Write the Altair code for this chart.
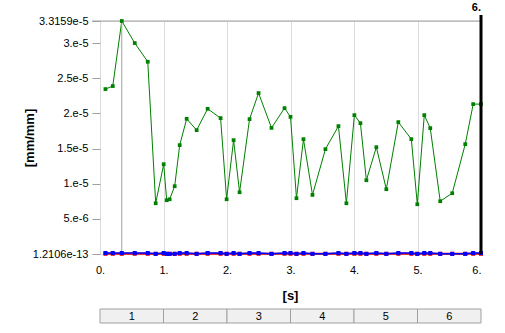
import altair as alt
import pandas as pd

# ---- data ----
t = [0.086, 0.201, 0.343, 0.547, 0.752, 0.877, 1.003, 1.050, 1.097, 1.176,
     1.255, 1.365, 1.522, 1.695, 1.899, 1.994, 2.104, 2.198, 2.355, 2.497,
     2.701, 2.906, 3.000, 3.094, 3.204, 3.346, 3.550, 3.755, 3.880, 4.006,
     4.101, 4.195, 4.352, 4.509, 4.698, 4.903, 4.997, 5.107, 5.201, 5.358,
     5.547, 5.752, 5.877, 6.000]
green = [2.347e-5, 2.390e-5, 3.3159e-5, 3.002e-5, 2.736e-5, 0.722e-5, 1.278e-5, 0.765e-5, 0.779e-5, 0.965e-5,
         1.549e-5, 1.924e-5, 1.763e-5, 2.066e-5, 1.934e-5, 0.779e-5, 1.620e-5, 0.879e-5, 1.919e-5, 2.290e-5,
         1.795e-5, 2.076e-5, 1.952e-5, 0.794e-5, 1.634e-5, 0.841e-5, 1.492e-5, 1.820e-5, 0.722e-5, 1.976e-5,
         1.862e-5, 1.050e-5, 1.520e-5, 0.922e-5, 1.877e-5, 1.634e-5, 0.708e-5, 1.976e-5, 1.791e-5, 0.751e-5,
         0.865e-5, 1.563e-5, 2.133e-5, 2.133e-5]
blue = [1.4e-7, 1.4e-7, 1.4e-7, 1.4e-7, 1.4e-7, 0.2e-7, 1.4e-7, 0.2e-7, 0.2e-7, 0.2e-7,
        1.4e-7, 1.4e-7, 0.2e-7, 1.4e-7, 1.4e-7, 0.2e-7, 1.4e-7, 0.2e-7, 1.4e-7, 1.4e-7,
        0.2e-7, 1.4e-7, 1.4e-7, 0.2e-7, 1.4e-7, 0.2e-7, 0.2e-7, 1.4e-7, 0.2e-7, 1.4e-7,
        1.4e-7, 0.2e-7, 1.4e-7, 0.2e-7, 1.4e-7, 1.4e-7, 0.2e-7, 1.4e-7, 1.4e-7, 0.2e-7,
        0.2e-7, 0.2e-7, 1.4e-7, 1.4e-7]
red = [0.3e-7] * len(t)

y_ticks = [1.2106e-13, 5e-6, 1e-5, 1.5e-5, 2e-5, 2.5e-5, 3e-5, 3.3159e-5]
y_labels = ["1.2106e-13", "5.e-6", "1.e-5", "1.5e-5", "2.e-5", "2.5e-5", "3.e-5", "3.3159e-5"]
x_ticks = [0, 1, 2, 3, 4, 5, 6]
x_labels = ["0.", "1.", "2.", "3.", "4.", "5.", "6."]
steps = ["1", "2", "3", "4", "5", "6"]
step_start = [0, 1, 2, 3, 4, 5]
step_end = [1, 2, 3, 4, 5, 6]
max_t = 0.343
max_v = 3.3159e-5
cursor_t = 6.0

FONT = "Liberation Sans"

# label expressions
ylab_expr = ""
for i, (v, s) in enumerate(zip(y_ticks, y_labels)):
    if i < len(y_ticks) - 1:
        ylab_expr += f"datum.value < {(v + y_ticks[i+1]) / 2:.4e} ? '{s}' : "
    else:
        ylab_expr += f"'{s}'"
xlab_expr = ""
for i, (v, s) in enumerate(zip(x_ticks, x_labels)):
    if i < len(x_ticks) - 1:
        xlab_expr += f"datum.value < {v + 0.5} ? '{s}' : "
    else:
        xlab_expr += f"'{s}'"

df = pd.DataFrame({"t": t, "green": green, "blue": blue, "red": red})
steps_df = pd.DataFrame({"label": steps, "s": step_start, "e": step_end,
                         "m": [(a + b) / 2 for a, b in zip(step_start, step_end)]})

xs = alt.Scale(domain=[0, 6], nice=False)
ys = alt.Scale(domain=[1.2106e-13, 3.3159e-5], nice=False, zero=False)

xaxis = alt.Axis(values=x_ticks, labelExpr=xlab_expr, title=None, grid=True,
                 gridColor="#dcdcdc", domain=False, ticks=False, labelPadding=10,
                 labelOverlap=False, labelFlush=False,
                 labelAlign={"condition": {"test": "datum.value >= 5.5", "value": "right"},
                             "value": "center"},
                 labelFont=FONT, labelFontSize=11, labelColor="#000")
yaxis = alt.Axis(values=y_ticks, labelExpr=ylab_expr, title=None, grid=False,
                 domain=False, ticks=True, tickSize=8, tickColor="#a0a0a0",
                 labelOverlap=False, labelBound=False, labelFlush=False,
                 labelPadding=4, labelFont=FONT, labelFontSize=11, labelColor="#000")


def X(field):
    return alt.X(field, scale=xs, axis=xaxis)


def Y(field):
    return alt.Y(field, scale=ys, axis=yaxis)


base = alt.Chart(df)

green_line = base.mark_line(color="#008000", strokeWidth=1).encode(x=X("t:Q"), y=Y("green:Q"))
green_pts = base.mark_square(color="#008000", size=14, opacity=1).encode(x=X("t:Q"), y=Y("green:Q"))

red_line = base.mark_line(color="#e00000", strokeWidth=2).encode(x=X("t:Q"), y=Y("red:Q"))
red_pts = base.mark_square(color="#e00000", size=16, opacity=1).encode(x=X("t:Q"), y=Y("red:Q"))
blue_line = base.mark_line(color="#0000ff", strokeWidth=1.5).encode(x=X("t:Q"), y=Y("blue:Q"))
blue_pts = base.mark_square(color="#0000ff", size=16, opacity=1).encode(x=X("t:Q"), y=Y("blue:Q"))

one = pd.DataFrame({"a": [0]})
cursor_max = alt.Chart(one).mark_rule(color="#a0a0a0", strokeWidth=1).encode(
    x=alt.datum(max_t, scale=xs, axis=xaxis), y=alt.value(0), y2=alt.value(233))
top_line = alt.Chart(one).mark_rule(color="#a0a0a0", strokeWidth=1).encode(
    y=alt.datum(max_v, scale=ys, axis=yaxis), x=alt.value(-8), x2=alt.value(381))
cursor = alt.Chart(one).mark_rule(color="#000", strokeWidth=3).encode(
    x=alt.datum(cursor_t, scale=xs, axis=xaxis), y=alt.value(-6), y2=alt.value(233))
cursor_lbl = alt.Chart(one).mark_text(font=FONT, fontSize=11, fontWeight="bold",
                                      align="right", baseline="middle", color="#000").encode(
    x=alt.datum(cursor_t, scale=xs, axis=xaxis), y=alt.value(-13), text=alt.value("6."))

cells = alt.Chart(steps_df).mark_rect(fill="#f0f0f0", stroke="#a0a0a0", strokeWidth=1).encode(
    x=X("s:Q"), x2="e:Q", y=alt.value(288), y2=alt.value(302))
cell_txt = alt.Chart(steps_df).mark_text(font=FONT, fontSize=11, color="#000",
                                         baseline="middle").encode(
    x=X("m:Q"), y=alt.value(295.5), text="label:N")

xtitle = alt.Chart(one).mark_text(font=FONT, fontSize=13, fontWeight="bold", color="#000",
                                  baseline="middle").encode(
    x=alt.value(190.5), y=alt.value(275), text=alt.value("[s]"))
ytitle = alt.Chart(one).mark_text(font=FONT, fontSize=13, fontWeight="bold", color="#000",
                                  baseline="middle", angle=270).encode(
    x=alt.value(-70), y=alt.value(117), text=alt.value("[mm/mm]"))

chart = alt.layer(
    green_line, cursor_max, top_line, green_pts, red_line, red_pts, blue_line, blue_pts,
    cursor, cursor_lbl, cells, cell_txt, xtitle, ytitle
).properties(
    width=381, height=233,
    autosize=alt.AutoSizeParams(type="none"),
    padding={"left": 100, "top": 21, "right": 24, "bottom": 79},
).configure_view(stroke=None).configure(background="white")

chart.save("out.html", embed_options={"renderer": "svg", "actions": False})
